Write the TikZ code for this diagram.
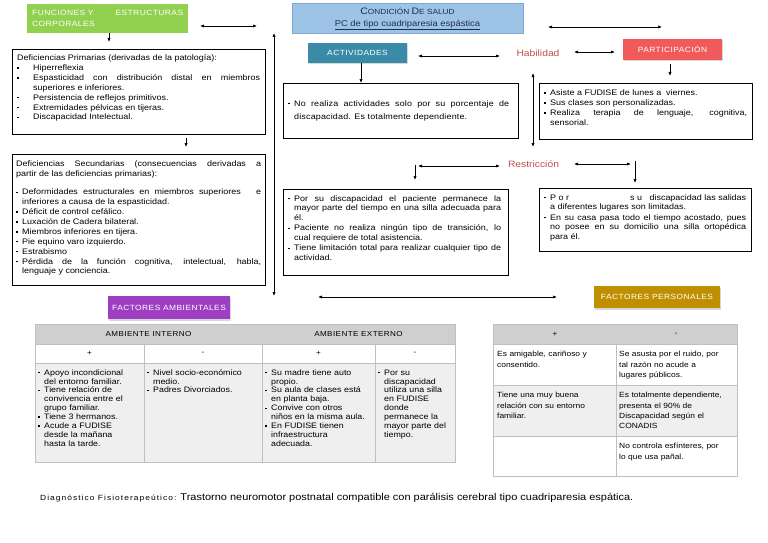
\documentclass[tikz,border=0pt]{standalone}
\usepackage{fontspec}
\setmainfont{Liberation Sans}[FakeStretch=1.12]
\usetikzlibrary{arrows.meta,shadows}

\definecolor{verde}{HTML}{92D050}
\definecolor{celeste}{HTML}{9DC3E6}
\definecolor{bordeceleste}{HTML}{7FA7CF}
\definecolor{azul}{HTML}{3A8BA8}
\definecolor{rojo}{HTML}{F05A5A}
\definecolor{morado}{HTML}{9E3FC3}
\definecolor{oro}{HTML}{BF8F00}
\definecolor{rojotxt}{HTML}{C0504D}
\definecolor{marino}{HTML}{1F3050}
\definecolor{griscab}{HTML}{CFCFCF}
\definecolor{grisclaro}{HTML}{EFEFEF}
\definecolor{linea}{HTML}{BFBFBF}

\newcommand{\sq}{\raisebox{1.8pt}{\rule{1.4pt}{1.4pt}}}
\newcommand{\itm}[2][6pt]{\par\hangindent=#1\hangafter=1\noindent\makebox[#1][l]{\sq}#2\par}

\tikzset{
	panel/.style={draw, line width=0.8pt, anchor=north west, inner sep=0pt},
	txt/.style={anchor=north west, inner sep=0pt, align=justify, font=\fontsize{8pt}{9.9pt}\selectfont},
	celda/.style={anchor=north west, inner sep=0pt, align=left, font=\fontsize{7.9pt}{8.9pt}\selectfont},
	celdab/.style={anchor=north west, inner sep=0pt, align=left, font=\fontsize{7.5pt}{10.4pt}\selectfont},
	etiqueta/.style={text=white, inner sep=0pt, font=\fontsize{7.5pt}{9pt}\selectfont\addfontfeatures{LetterSpace=6}, drop shadow={shadow xshift=1pt, shadow yshift=-1.5pt, opacity=.3}},
	cab/.style={font=\fontsize{7.2pt}{9pt}\selectfont\addfontfeatures{LetterSpace=6}},
	roja/.style={text=rojotxt, font=\fontsize{9.2pt}{10pt}\selectfont},
	flecha/.style={line width=0.7pt, -{Latex[length=4pt,width=3.2pt]}},
	doble/.style={line width=0.7pt, {Latex[length=4pt,width=3.2pt]}-{Latex[length=4pt,width=3.2pt]}}
}

\begin{document}
\begin{tikzpicture}[x=1pt,y=-1pt]
	\fill[white] (0,0) rectangle (768,543);
	\useasboundingbox (0,0) rectangle (768,543);

	\node[anchor=north west, fill=verde, minimum width=161pt, minimum height=29pt, text width=151pt, inner xsep=5pt, align=left, text=white, font=\fontsize{7.6pt}{11pt}\selectfont\addfontfeatures{LetterSpace=5}] (fyc) at (27,4) {FUNCIONES Y\hfill ESTRUCTURAS\\ CORPORALES};
	\node[anchor=north west, fill=celeste, draw=bordeceleste, minimum width=231pt, minimum height=30pt] (cs) at (292,3) {};
	\node[align=center, text=marino, font=\fontsize{8.4pt}{11.7pt}\selectfont] (cs-t) at (407.5,19) {{\fontsize{9.4pt}{11.7pt}\selectfont C}{\fontsize{7.4pt}{11.7pt}\selectfont ONDICIÓN }{\fontsize{9.4pt}{11.7pt}\selectfont D}{\fontsize{7.4pt}{11.7pt}\selectfont E SALUD}\\ \underline{PC de tipo cuadriparesia espástica}};
	\node[etiqueta, fill=azul, minimum width=99pt, minimum height=20pt] (act) at (357.5,53) {ACTIVIDADES};
	\node[etiqueta, fill=rojo, minimum width=99pt, minimum height=21pt] (par) at (672.5,49.5) {PARTICIPACIÓN};
	\node[roja] (hab) at (538,53) {Habilidad};
	\node[roja] (res) at (533.5,164) {Restricción};
	\node[etiqueta, fill=morado, minimum width=122pt, minimum height=23pt] (fam) at (169,307.5) {FACTORES AMBIENTALES};
	\node[etiqueta, fill=oro, minimum width=126pt, minimum height=22pt] (fper) at (657,297) {FACTORES PERSONALES};

	\node[panel, minimum width=253pt, minimum height=85pt] (prim) at (12,49) {};
	\node[txt, text width=243pt] (prim-t) at (17,54.5) {Deficiencias Primarias (derivadas de la patología):
		\itm[16pt]{Hiperreflexia}
		\itm[16pt]{Espasticidad con distribución distal en miembros\linebreak superiores e inferiores.}
		\itm[16pt]{Persistencia de reflejos primitivos.}
		\itm[16pt]{Extremidades pélvicas en tijeras.}
		\itm[16pt]{Discapacidad Intelectual.}};

	\node[panel, minimum width=253pt, minimum height=131pt] (sec) at (12,154) {};
	\node[txt, text width=245pt] (sec-t) at (16,161) {Deficiencias Secundarias (consecuencias derivadas a\linebreak partir de las deficiencias primarias):\par\vspace{8pt}
		\itm{Deformidades estructurales en miembros superiores \ \ e\linebreak inferiores a causa de la espasticidad.}
		\itm{Déficit de control cefálico.}
		\itm{Luxación de Cadera bilateral.}
		\itm{Miembros inferiores en tijera.}
		\itm{Pie equino varo izquierdo.}
		\itm{Estrabismo}
		\itm{Pérdida de la función cognitiva, intelectual, habla,\linebreak lenguaje y conciencia.}};

	\node[panel, minimum width=235pt, minimum height=55pt] (noreal) at (283,83) {};
	\node[txt, text width=221pt, font=\fontsize{8pt}{13pt}\selectfont\addfontfeatures{LetterSpace=2}] (noreal-t) at (288,93) {\itm{No realiza actividades solo por su porcentaje de\linebreak discapacidad. Es totalmente dependiente.}};

	\node[panel, minimum width=213pt, minimum height=56pt] (asiste) at (539,83) {};
	\node[txt, text width=203pt] (asiste-t) at (544,85.5) {\itm{Asiste a FUDISE de lunes a \ viernes.}
		\itm{Sus clases son personalizadas.}
		\itm{Realiza terapia de lenguaje, cognitiva,\linebreak sensorial.}};

	\node[panel, minimum width=225pt, minimum height=86pt] (porsu) at (283,189) {};
	\node[txt, text width=213pt, font=\fontsize{8pt}{9.5pt}\selectfont] (porsu-t) at (288,191.5) {\itm{Por su discapacidad el paciente permanece la\linebreak mayor parte del tiempo en una silla adecuada para\linebreak él.}\vspace{1pt}
		\itm{Paciente no realiza ningún tipo de transición, lo\linebreak cual requiere de total asistencia.}\vspace{1pt}
		\itm{Tiene limitación total para realizar cualquier tipo de\linebreak actividad.}};

	\node[panel, minimum width=212pt, minimum height=63pt] (salidas) at (539,188) {};
	\node[txt, text width=202pt, font=\fontsize{8pt}{9.5pt}\selectfont] (salidas-t) at (544,190.5) {\itm{P o r \hfill s u \ \ discapacidad las salidas\linebreak a diferentes lugares son limitadas.}\vspace{1pt}
		\itm{En su casa pasa todo el tiempo acostado, pues\linebreak no posee en su domicilio una silla ortopédica\linebreak para él.}};

	\coordinate (fyc-p) at (109,42);
	\coordinate (fyc-i) at (200,26);
	\coordinate (fyc-d) at (257,26);
	\coordinate (eje-a) at (274,33);
	\coordinate (eje-b) at (274,296);
	\coordinate (prim-p) at (186,138);
	\coordinate (sec-p) at (186,147);
	\coordinate (act-p) at (361,63);
	\coordinate (act-i) at (418,56);
	\coordinate (act-d) at (500,56);
	\coordinate (hab-i) at (574,52);
	\coordinate (hab-d) at (615,52);
	\coordinate (cs-i) at (548,27);
	\coordinate (cs-d) at (662,27);
	\coordinate (par-p) at (670,64);
	\coordinate (par-q) at (670,76);
	\coordinate (ver-a) at (533,73);
	\coordinate (ver-b) at (533,147);
	\coordinate (res-a) at (415,165);
	\coordinate (res-b) at (415,180);
	\coordinate (res-i) at (418,166);
	\coordinate (res-d) at (500,166);
	\coordinate (res-e) at (574,164);
	\coordinate (res-f) at (631,164);
	\coordinate (sal-a) at (635,161);
	\coordinate (sal-b) at (635,183);
	\coordinate (fac-i) at (318,297);
	\coordinate (fac-d) at (557,297);

	\draw[flecha] (fyc-p |- fyc.south) -- (fyc-p);
	\draw[doble] (fyc-i) -- (fyc-d);
	\draw[doble] (eje-a) -- (eje-b);
	\draw[flecha] (prim-p) -- (sec-p);
	\draw[flecha] (act-p |- act.south) -- (act-p |- noreal.north);
	\draw[doble] (act-i) -- (act-d);
	\draw[doble] (hab-i) -- (hab-d);
	\draw[doble] (cs-i) -- (cs-d);
	\draw[flecha] (par-p) -- (par-q);
	\draw[doble] (ver-a) -- (ver-b);
	\draw[flecha] (res-a) -- (res-b);
	\draw[doble] (res-i) -- (res-d);
	\draw[doble] (res-e) -- (res-f);
	\draw[flecha] (sal-a) -- (sal-b);
	\draw[doble] (fac-i) -- (fac-d);

	\fill[griscab] (35,324) rectangle (455,344);
	\fill[grisclaro] (35,363) rectangle (455,462);
	\draw[linea] (35,324) rectangle (455,462);
	\draw[linea] (35,344) -- (455,344);
	\draw[linea] (35,363) -- (455,363);
	\draw[linea] (144,344) -- (144,462);
	\draw[linea] (262,344) -- (262,462);
	\draw[linea] (375,344) -- (375,462);
	\node[cab] (ai) at (148.5,334) {AMBIENTE INTERNO};
	\node[cab] (ae) at (358.5,334) {AMBIENTE EXTERNO};
	\node[cab] (ai-mas) at (89.5,353.5) {+};
	\node[cab] (ai-menos) at (203,353.5) {-};
	\node[cab] (ae-mas) at (318.5,353.5) {+};
	\node[cab] (ae-menos) at (415,353.5) {-};
	\node[celda, text width=104pt] (ai-1) at (38,366) {\itm{Apoyo incondicional\newline del entorno familiar.}
		\itm{Tiene relación de\newline convivencia entre el\newline grupo familiar.}
		\itm{Tiene 3 hermanos.}
		\itm{Acude a FUDISE\newline desde la mañana\newline hasta la tarde.}};
	\node[celda, text width=112pt] (ai-2) at (147,366) {\itm{Nivel socio-económico\newline medio.}
		\itm{Padres Divorciados.}};
	\node[celda, text width=108pt] (ae-1) at (265,366) {\itm{Su madre tiene auto\newline propio.}
		\itm{Su aula de clases está\newline en planta baja.}
		\itm{Convive con otros\newline niños en la misma aula.}
		\itm{En FUDISE tienen\newline infraestructura\newline adecuada.}};
	\node[celda, text width=76pt] (ae-2) at (378,366) {\itm{Por su\newline discapacidad\newline utiliza una silla\newline en FUDISE\newline donde\newline permanece la\newline mayor parte del\newline tiempo.}};

	\fill[griscab] (493,324) rectangle (737,344);
	\fill[grisclaro] (493,385) rectangle (737,436);
	\draw[linea] (493,324) rectangle (737,476);
	\draw[linea] (493,344) -- (737,344);
	\draw[linea] (493,385) -- (737,385);
	\draw[linea] (493,436) -- (737,436);
	\draw[linea] (616,344) -- (616,476);
	\node[cab] (fp-mas) at (555,334) {+};
	\node[cab] (fp-menos) at (676,334) {-};
	\node[celdab, text width=118pt] (fp-11) at (497,351) {Es amigable, cariñoso y\\ consentido.};
	\node[celdab, text width=118pt] (fp-12) at (619,351) {Se asusta por el ruido, por\\ tal razón no acude a\\ lugares públicos.};
	\node[celdab, text width=118pt] (fp-21) at (497,392) {Tiene una muy buena\\ relación con su entorno\\ familiar.};
	\node[celdab, text width=118pt] (fp-22) at (619,392) {Es totalmente dependiente,\\ presenta el 90\% de\\ Discapacidad según el\\ CONADIS};
	\node[celdab, text width=118pt] (fp-32) at (619,443) {No controla esfínteres, por\\ lo que usa pañal.};

	\node[anchor=west, inner sep=0pt, font=\fontsize{9.8pt}{11pt}\selectfont] (diag) at (40,498) {{\fontsize{7.5pt}{9pt}\selectfont\addfontfeatures{LetterSpace=14}Diagnóstico Fisioterapeútico:} Trastorno neuromotor postnatal compatible con parálisis cerebral tipo cuadriparesia espática.};
\end{tikzpicture}
\end{document}
